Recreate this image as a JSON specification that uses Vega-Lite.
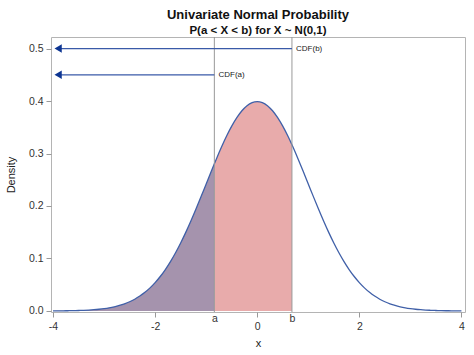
{
  "$schema": "https://vega.github.io/schema/vega-lite/v6.json",
  "autosize": "none",
  "width": 414,
  "height": 275,
  "padding": {"left": 51, "top": 37, "right": 9, "bottom": 43},
  "background": "white",
  "title": {
    "text": "Univariate Normal Probability",
    "subtitle": "P(a < X < b) for X ~ N(0,1)",
    "font": "Liberation Sans",
    "fontSize": 13,
    "fontWeight": "bold",
    "color": "#111",
    "subtitleFont": "Liberation Sans",
    "subtitleFontSize": 11.5,
    "subtitleFontWeight": "bold",
    "subtitleColor": "#111",
    "subtitlePadding": 3,
    "anchor": "middle",
    "offset": 0
  },
  "config": {
    "view": {"stroke": "#b4b4b4", "strokeWidth": 1},
    "axis": {
      "labelFont": "Liberation Sans",
      "titleFont": "Liberation Sans",
      "labelFontSize": 10.5,
      "titleFontSize": 11,
      "titleFontWeight": "normal",
      "labelColor": "#333",
      "titleColor": "#222",
      "domain": false,
      "grid": false,
      "tickColor": "#999",
      "tickSize": 5
    }
  },
  "datasets": {
    "curve": [
      {"x": -4.0, "y": 0.00013}, {"x": -3.9, "y": 0.0002}, {"x": -3.8, "y": 0.00029}, {"x": -3.7, "y": 0.00042},
      {"x": -3.6, "y": 0.00061}, {"x": -3.5, "y": 0.00087}, {"x": -3.4, "y": 0.00123}, {"x": -3.3, "y": 0.00172},
      {"x": -3.2, "y": 0.00238}, {"x": -3.1, "y": 0.00327}, {"x": -3.0, "y": 0.00443}, {"x": -2.9, "y": 0.00595},
      {"x": -2.8, "y": 0.00792}, {"x": -2.7, "y": 0.01042}, {"x": -2.6, "y": 0.01358}, {"x": -2.5, "y": 0.01753},
      {"x": -2.4, "y": 0.02239}, {"x": -2.3, "y": 0.02833}, {"x": -2.2, "y": 0.03547}, {"x": -2.1, "y": 0.04398},
      {"x": -2.0, "y": 0.05399}, {"x": -1.9, "y": 0.06562}, {"x": -1.8, "y": 0.07895}, {"x": -1.7, "y": 0.09405},
      {"x": -1.6, "y": 0.11092}, {"x": -1.5, "y": 0.12952}, {"x": -1.4, "y": 0.14973}, {"x": -1.3, "y": 0.17137},
      {"x": -1.2, "y": 0.19419}, {"x": -1.1, "y": 0.21785}, {"x": -1.0, "y": 0.24197}, {"x": -0.9, "y": 0.26609},
      {"x": -0.84, "y": 0.28034},
      {"x": -0.8, "y": 0.28969}, {"x": -0.7, "y": 0.31225}, {"x": -0.6, "y": 0.33322}, {"x": -0.5, "y": 0.35207},
      {"x": -0.4, "y": 0.36827}, {"x": -0.3, "y": 0.38139}, {"x": -0.2, "y": 0.39104}, {"x": -0.1, "y": 0.39695},
      {"x": 0.0, "y": 0.39894}, {"x": 0.1, "y": 0.39695}, {"x": 0.2, "y": 0.39104}, {"x": 0.3, "y": 0.38139},
      {"x": 0.4, "y": 0.36827}, {"x": 0.5, "y": 0.35207}, {"x": 0.6, "y": 0.33322},
      {"x": 0.68, "y": 0.3166},
      {"x": 0.7, "y": 0.31225}, {"x": 0.8, "y": 0.28969}, {"x": 0.9, "y": 0.26609}, {"x": 1.0, "y": 0.24197},
      {"x": 1.1, "y": 0.21785}, {"x": 1.2, "y": 0.19419}, {"x": 1.3, "y": 0.17137}, {"x": 1.4, "y": 0.14973},
      {"x": 1.5, "y": 0.12952}, {"x": 1.6, "y": 0.11092}, {"x": 1.7, "y": 0.09405}, {"x": 1.8, "y": 0.07895},
      {"x": 1.9, "y": 0.06562}, {"x": 2.0, "y": 0.05399}, {"x": 2.1, "y": 0.04398}, {"x": 2.2, "y": 0.03547},
      {"x": 2.3, "y": 0.02833}, {"x": 2.4, "y": 0.02239}, {"x": 2.5, "y": 0.01753}, {"x": 2.6, "y": 0.01358},
      {"x": 2.7, "y": 0.01042}, {"x": 2.8, "y": 0.00792}, {"x": 2.9, "y": 0.00595}, {"x": 3.0, "y": 0.00443},
      {"x": 3.1, "y": 0.00327}, {"x": 3.2, "y": 0.00238}, {"x": 3.3, "y": 0.00172}, {"x": 3.4, "y": 0.00123},
      {"x": 3.5, "y": 0.00087}, {"x": 3.6, "y": 0.00061}, {"x": 3.7, "y": 0.00042}, {"x": 3.8, "y": 0.00029},
      {"x": 3.9, "y": 0.0002}, {"x": 4.0, "y": 0.00013}
    ],
    "arrows": [
      {"label": "CDF(b)", "y": 0.5, "xstart": 0.68, "xend": -3.86, "xtip": -3.9, "xlab": 0.76},
      {"label": "CDF(a)", "y": 0.45, "xstart": -0.84, "xend": -3.86, "xtip": -3.9, "xlab": -0.76}
    ],
    "cuts": [
      {"name": "a", "x": -0.84},
      {"name": "b", "x": 0.68}
    ]
  },
  "layer": [
    {
      "data": {"name": "curve"},
      "transform": [{"filter": "datum.x <= -0.84"}],
      "mark": {"type": "area", "color": "#a593ad", "opacity": 1},
      "encoding": {
        "x": {
          "field": "x", "type": "quantitative",
          "scale": {"domain": [-4.04, 4.07], "nice": false, "zero": false},
          "axis": {
            "title": "x",
            "values": [-4, -2, -0.84, 0, 0.68, 2, 4],
            "labelExpr": "datum.value == -0.84 ? 'a' : datum.value == 0.68 ? 'b' : replace(datum.label, '\u2212', '-')",
            "labelPadding": {"expr": "datum.value == -0.84 || datum.value == 0.68 ? 1 : 4"},
            "tickSize": {"expr": "datum.value == -0.84 || datum.value == 0.68 ? 0 : 5"},
            "labelFlush": false,
            "titlePadding": 6
          }
        },
        "y": {
          "field": "y", "type": "quantitative",
          "scale": {"domain": [-0.002, 0.522], "nice": false, "zero": false},
          "axis": {"title": "Density", "values": [0, 0.1, 0.2, 0.3, 0.4, 0.5], "format": ".1f", "titlePadding": 12, "labelPadding": 3}
        }
      }
    },
    {
      "data": {"name": "curve"},
      "transform": [{"filter": "datum.x >= -0.84 && datum.x <= 0.68"}],
      "mark": {"type": "area", "color": "#e8abab", "opacity": 1},
      "encoding": {
        "x": {"field": "x", "type": "quantitative"},
        "y": {"field": "y", "type": "quantitative"}
      }
    },
    {
      "data": {"name": "curve"},
      "mark": {"type": "line", "color": "#4060a8", "strokeWidth": 1.3, "interpolate": "monotone"},
      "encoding": {
        "x": {"field": "x", "type": "quantitative"},
        "y": {"field": "y", "type": "quantitative"}
      }
    },
    {
      "data": {"name": "cuts"},
      "mark": {"type": "rule", "color": "#999999", "strokeWidth": 1},
      "encoding": {
        "x": {"field": "x", "type": "quantitative"}
      }
    },
    {
      "data": {"name": "arrows"},
      "mark": {"type": "rule", "color": "#3a5aa8", "strokeWidth": 1.3},
      "encoding": {
        "x": {"field": "xstart", "type": "quantitative"},
        "x2": {"field": "xend"},
        "y": {"field": "y", "type": "quantitative"}
      }
    },
    {
      "data": {"name": "arrows"},
      "mark": {"type": "point", "shape": "triangle-left", "filled": true, "color": "#0d3592", "size": 70, "opacity": 1},
      "encoding": {
        "x": {"field": "xtip", "type": "quantitative"},
        "y": {"field": "y", "type": "quantitative"}
      }
    },
    {
      "data": {"name": "arrows"},
      "mark": {"type": "text", "align": "left", "baseline": "middle", "font": "Liberation Sans", "fontSize": 8, "color": "#222"},
      "encoding": {
        "x": {"field": "xlab", "type": "quantitative"},
        "y": {"field": "y", "type": "quantitative"},
        "text": {"field": "label"}
      }
    }
  ]
}
